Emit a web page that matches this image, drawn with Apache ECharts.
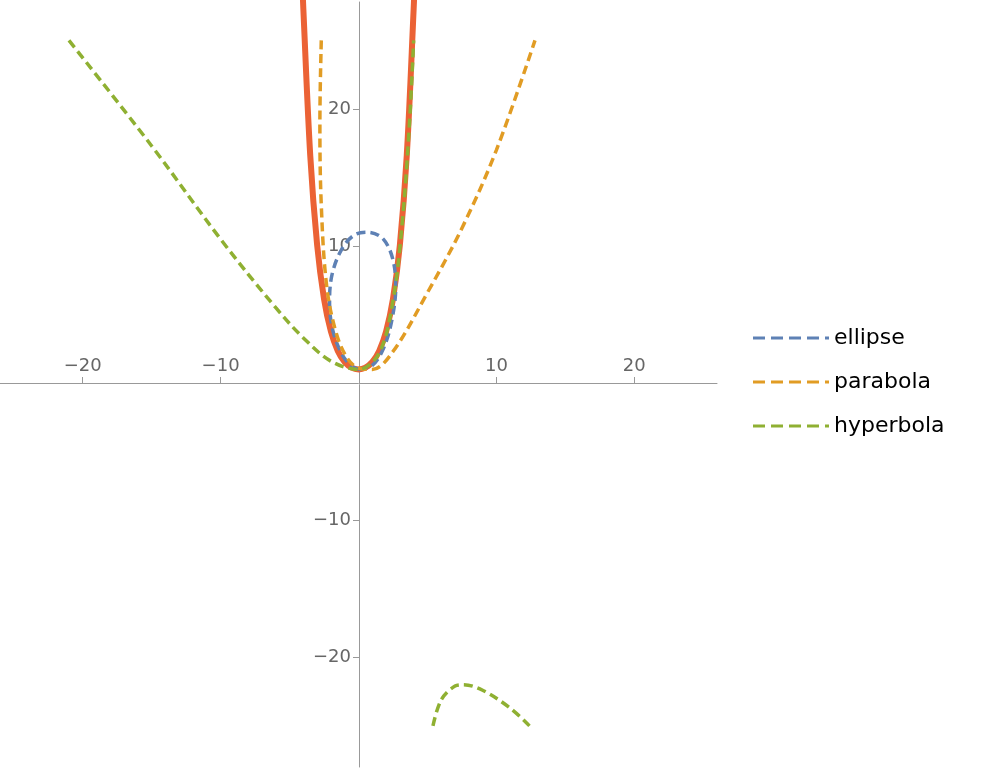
<!DOCTYPE html><html><head><meta charset="utf-8">
<script src="https://cdn.jsdelivr.net/npm/echarts@6/dist/echarts.min.js"></script>
<style>html,body{margin:0;padding:0;background:#fff}#c{width:982px;height:770px}</style></head><body><div id="c"></div>
<script>
const tickValues=[-20,-10,10,20];
const curveCosh=[[-4.15,31],[-4,27.3],[-3.5,16.6],[-3,10.07],[-2.5,6.13],[-2,3.76],[-1.5,2.35],[-1,1.54],[-0.5,1.13],[0,1],[0.5,1.13],[1,1.54],[1.5,2.35],[2,3.76],[2.5,6.13],[3,10.07],[3.5,16.6],[4,27.3],[4.15,31]];
const ellipse=[[0,1],[1,1.3],[1.8,2.5],[2.4,4.5],[2.7,7],[2.5,9],[1.8,10.5],[0.7,11],[-0.3,10.8],[-1.2,9.8],[-1.9,8],[-2.1,6],[-1.9,4],[-1.3,2.3],[-0.6,1.3],[0,1]];
const parabola=[[-2.7,25],[-2.8,19],[-2.7,13],[-2.3,7],[-1.6,3.6],[-0.8,1.8],[0,1.1],[1,1],[2.5,2.3],[5,6.6],[7.5,11.3],[10,17],[12.8,25]];
const hyperbolaUpper=[[-21,25],[-15,17.3],[-10,10.5],[-6,5.5],[-4,3.3],[-2,1.6],[0,1],[1.5,2.2],[2.5,6],[3.2,12],[3.7,19],[4,25]];
const hyperbolaLower=[[5.4,-25],[6,-23.1],[7,-22.1],[7.6,-22],[9,-22.4],[11,-23.7],[12.4,-25]];
const names=['ellipse','parabola','hyperbola'];
const colors=['#5E81B5','#E19C24','#8FB032'];
const dash={type:[9,5],width:3.5};
const dashIcon='path://M0,0h12v3h-12z M18,0h12v3h-12z M36,0h12v3h-12z M54,0h12v3h-12z M72,0h4v3h-4z';
const ax=(extra)=>Object.assign({type:'value',splitLine:{show:false},
 axisLine:{onZero:false,lineStyle:{color:'#999'}},
 axisTick:{customValues:tickValues,length:6,lineStyle:{color:'#999'}},
 axisLabel:{customValues:tickValues,fontSize:18,color:'#666',fontFamily:'DejaVu Sans',formatter:v=>String(v).replace('-','\u2212')}},extra);
const mk=(name,data,color)=>({name,type:'line',data,smooth:0.35,showSymbol:false,symbol:'none',lineStyle:Object.assign({color},dash),itemStyle:{color},clip:true,z:3});
echarts.init(document.getElementById('c')).setOption({
 animation:false,
 grid:{left:0,right:265,top:2,bottom:3,containLabel:false,outerBoundsMode:'none'},
 xAxis:ax({min:-26,max:26,position:'top',offset:-381}),
 yAxis:ax({min:-28,max:27.8,position:'left',offset:-359}),
 legend:{orient:'vertical',left:748,top:322,itemGap:22,itemWidth:76,itemHeight:3,
   data:names.map(n=>({name:n,icon:dashIcon})),
   textStyle:{fontSize:22,color:'#000',fontFamily:'DejaVu Sans'}},
 series:[
  {type:'line',data:curveCosh,smooth:0.35,symbol:'none',lineStyle:{color:'#EB6235',width:6},clip:true,z:2},
  mk('ellipse',ellipse,colors[0]),
  mk('parabola',parabola,colors[1]),
  mk('hyperbola',hyperbolaUpper,colors[2]),
  mk('hyperbola',hyperbolaLower,colors[2])
 ]
});
</script></body></html>
